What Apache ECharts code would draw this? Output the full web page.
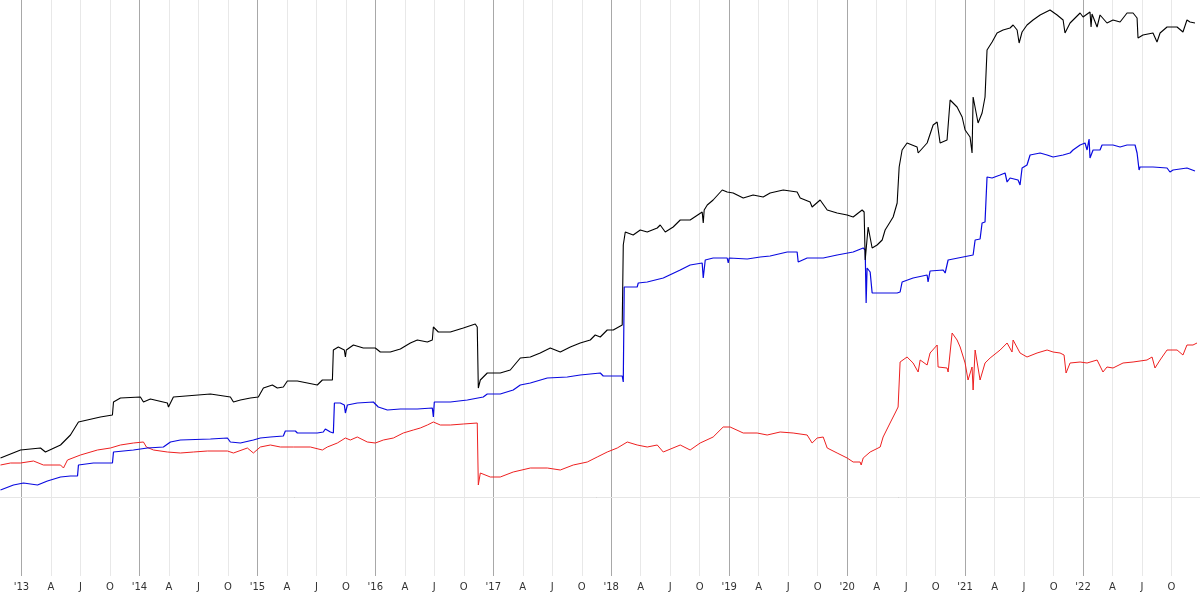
<!DOCTYPE html>
<html>
<head>
<meta charset="utf-8">
<script src="https://cdn.jsdelivr.net/npm/echarts@6/dist/echarts.min.js"></script>
<style>
html,body{margin:0;padding:0;background:#fff;overflow:hidden;width:1200px;height:600px;position:relative;}
#c{position:absolute;left:-8px;top:0;width:1209px;height:600px;}
</style>
</head>
<body>
<div id="c"></div>
<script>
// time in decimal years
const blackDates = [2012.822,2012.992,2013.161,2013.203,2013.331,2013.415,2013.483,2013.669,2013.771,2013.780,2013.839,2014.008,2014.034,2014.093,2014.237,2014.246,2014.288,2014.602,2014.771,2014.797,2014.856,2014.941,2015.008,2015.051,2015.127,2015.169,2015.220,2015.254,2015.339,2015.424,2015.508,2015.551,2015.636,2015.644,2015.686,2015.737,2015.746,2015.754,2015.814,2015.898,2016.000,2016.042,2016.127,2016.212,2016.297,2016.356,2016.441,2016.483,2016.492,2016.534,2016.636,2016.746,2016.847,2016.864,2016.873,2016.890,2016.949,2017.059,2017.144,2017.229,2017.314,2017.398,2017.483,2017.568,2017.653,2017.737,2017.822,2017.864,2017.907,2017.966,2018.017,2018.093,2018.102,2018.119,2018.186,2018.246,2018.305,2018.390,2018.415,2018.458,2018.525,2018.585,2018.669,2018.771,2018.780,2018.788,2018.814,2018.864,2018.941,2018.983,2019.034,2019.119,2019.203,2019.288,2019.347,2019.458,2019.576,2019.602,2019.686,2019.703,2019.771,2019.831,2019.915,2020.000,2020.051,2020.127,2020.144,2020.153,2020.178,2020.212,2020.254,2020.297,2020.322,2020.364,2020.390,2020.424,2020.441,2020.466,2020.508,2020.593,2020.602,2020.678,2020.729,2020.763,2020.788,2020.847,2020.873,2020.932,2020.975,2021.000,2021.042,2021.059,2021.068,2021.110,2021.144,2021.169,2021.186,2021.229,2021.271,2021.322,2021.381,2021.407,2021.441,2021.458,2021.483,2021.525,2021.576,2021.636,2021.720,2021.780,2021.831,2021.847,2021.890,2021.975,2022.000,2022.059,2022.068,2022.076,2022.119,2022.144,2022.203,2022.254,2022.314,2022.373,2022.424,2022.458,2022.466,2022.508,2022.593,2022.627,2022.653,2022.712,2022.797,2022.847,2022.881,2022.907,2022.949];
const blackValues = [39,47,49,45,52,62,75,80,82,95,99,100,95,98,94,90,100,103,100,95,97,99,100,109,112,109,110,116,116,114,112,117,117,147,150,147,140,147,152,149,149,145,145,148,154,157,155,157,170,165,165,169,173,170,109,117,124,124,127,139,140,144,149,145,150,154,157,162,160,167,167,172,252,265,262,267,265,269,272,265,270,277,277,285,274,287,292,297,307,305,304,299,302,300,304,307,305,299,295,290,297,287,284,282,280,287,285,237,270,249,252,257,267,275,280,294,330,347,354,350,344,354,372,375,354,357,397,390,380,367,360,344,400,374,384,400,447,455,464,467,469,472,467,454,465,472,477,482,487,482,477,464,474,484,480,485,470,483,470,482,474,477,475,484,484,479,459,462,464,455,464,470,470,465,477,475,474];

const blueDates = [2012.822,2012.932,2013.017,2013.136,2013.220,2013.331,2013.415,2013.475,2013.483,2013.610,2013.771,2013.780,2013.949,2014.068,2014.203,2014.263,2014.347,2014.602,2014.746,2014.771,2014.856,2014.966,2015.025,2015.110,2015.220,2015.237,2015.322,2015.339,2015.508,2015.559,2015.576,2015.619,2015.644,2015.653,2015.703,2015.737,2015.746,2015.763,2015.847,2015.983,2016.025,2016.102,2016.212,2016.356,2016.483,2016.492,2016.500,2016.636,2016.780,2016.915,2016.949,2017.059,2017.169,2017.229,2017.314,2017.458,2017.627,2017.737,2017.907,2017.932,2018.093,2018.102,2018.110,2018.220,2018.229,2018.305,2018.441,2018.585,2018.669,2018.771,2018.780,2018.797,2018.864,2018.941,2018.949,2018.983,2018.992,2019.000,2019.153,2019.263,2019.347,2019.492,2019.576,2019.585,2019.661,2019.797,2019.915,2020.051,2020.136,2020.153,2020.161,2020.169,2020.195,2020.212,2020.424,2020.449,2020.466,2020.559,2020.678,2020.686,2020.703,2020.814,2020.831,2020.856,2020.983,2021.068,2021.085,2021.127,2021.144,2021.169,2021.186,2021.229,2021.297,2021.339,2021.356,2021.381,2021.449,2021.466,2021.483,2021.525,2021.551,2021.636,2021.695,2021.746,2021.831,2021.890,2021.915,2021.975,2022.017,2022.034,2022.051,2022.059,2022.085,2022.144,2022.161,2022.254,2022.314,2022.373,2022.441,2022.458,2022.475,2022.483,2022.593,2022.712,2022.737,2022.763,2022.881,2022.949];
const blueValues = [7,12,14,12,16,20,21,21,32,34,34,45,47,49,50,55,57,58,59,55,54,57,59,60,61,66,66,64,64,65,68,65,64,94,94,92,84,92,94,95,90,87,88,88,89,80,95,95,97,100,103,103,107,112,114,119,120,122,124,121,121,115,210,210,214,215,219,227,232,234,219,237,239,239,241,239,234,239,238,240,241,245,245,235,239,239,242,245,249,247,194,229,225,204,204,205,215,219,222,215,226,227,224,237,240,242,257,258,274,275,320,319,322,324,315,319,317,312,329,332,342,344,342,340,342,344,347,352,354,347,358,339,347,347,352,352,350,352,352,344,327,330,330,329,325,327,329,326];

const redDates = [2012.822,2012.907,2012.992,2013.102,2013.186,2013.331,2013.356,2013.390,2013.500,2013.644,2013.754,2013.839,2013.949,2014.034,2014.059,2014.119,2014.237,2014.347,2014.458,2014.576,2014.746,2014.797,2014.915,2014.966,2015.025,2015.110,2015.195,2015.305,2015.449,2015.551,2015.593,2015.678,2015.746,2015.788,2015.847,2015.932,2016.000,2016.068,2016.153,2016.237,2016.322,2016.381,2016.441,2016.492,2016.551,2016.636,2016.746,2016.864,2016.873,2016.890,2016.975,2017.059,2017.169,2017.314,2017.458,2017.568,2017.678,2017.797,2017.881,2017.966,2018.051,2018.136,2018.220,2018.305,2018.390,2018.441,2018.585,2018.669,2018.754,2018.864,2018.949,2019.008,2019.119,2019.237,2019.322,2019.432,2019.542,2019.661,2019.703,2019.746,2019.797,2019.831,2019.915,2020.000,2020.051,2020.110,2020.119,2020.136,2020.195,2020.280,2020.305,2020.364,2020.407,2020.432,2020.449,2020.508,2020.559,2020.602,2020.619,2020.678,2020.703,2020.763,2020.771,2020.847,2020.856,2020.890,2020.932,2020.958,2021.000,2021.025,2021.059,2021.068,2021.085,2021.127,2021.169,2021.212,2021.297,2021.356,2021.398,2021.407,2021.466,2021.525,2021.610,2021.695,2021.746,2021.805,2021.839,2021.856,2021.890,2021.975,2022.034,2022.119,2022.169,2022.203,2022.254,2022.339,2022.424,2022.542,2022.585,2022.610,2022.653,2022.712,2022.797,2022.847,2022.881,2022.932,2022.966];
const redValues = [32,34,34,36,32,32,29,37,42,47,49,52,54,55,50,47,45,44,45,46,46,44,49,44,50,52,50,50,50,47,50,54,59,57,60,55,54,57,59,64,67,69,72,75,72,72,73,74,12,24,20,20,25,29,29,27,32,35,40,45,49,55,52,50,52,45,52,47,54,60,70,70,64,64,62,65,64,62,54,59,60,49,44,39,35,35,32,39,45,50,60,74,84,90,135,140,134,125,137,132,144,152,130,129,125,164,157,150,134,117,130,107,147,117,134,139,147,154,145,157,144,140,144,147,145,144,142,124,134,135,134,137,125,130,129,134,135,137,140,129,137,147,147,142,152,152,154];

const quarterLabels = ['A', 'J', 'O'];
const yearPrefix = "'";

function pairs(d, v) { return d.map((x, i) => [x, v[i]]); }

const chart = echarts.init(document.getElementById('c'), null, {renderer: 'canvas'});
chart.setOption({
  animation: false,
  backgroundColor: '#ffffff',
  grid: { left: 0, right: 0, top: 0, bottom: 24, containLabel: false },
  xAxis: {
    type: 'value', min: 2012.75, max: 2023, interval: 0.25,
    axisLine: { show: true, lineStyle: { color: '#8a8a8a', width: 1 } },
    axisTick: { show: false },
    axisLabel: {
      showMinLabel: false, showMaxLabel: false,
      margin: 6, color: '#333', fontSize: 10, fontFamily: 'DejaVu Sans',
      formatter: function (v) {
        const y = Math.round(v);
        if (Math.abs(v - y) < 1e-6) return yearPrefix + String(y).slice(2);
        const q = Math.round((v - Math.floor(v)) * 4);
        return quarterLabels[q - 1];
      }
    },
    splitLine: { show: true, lineStyle: { color: ['#e8e8e8', '#a8a8a8', '#e8e8e8', '#e8e8e8'], width: 1 } }
  },
  yAxis: {
    type: 'value', min: -79, max: 497, show: false, splitLine: { show: false }
  },
  series: [
    { type: 'line', name: 'red', data: pairs(redDates, redValues), showSymbol: false, symbol: 'none',
      lineStyle: { color: '#ee2020', width: 1 }, itemStyle: { color: '#ee2020' },
      markLine: { silent: true, symbol: 'none', label: { show: false },
        lineStyle: { color: '#e6e6e6', type: 'solid', width: 1 }, data: [{ yAxis: 0 }] } },
    { type: 'line', name: 'blue', data: pairs(blueDates, blueValues), showSymbol: false, symbol: 'none',
      lineStyle: { color: '#0a0ae0', width: 1.2 }, itemStyle: { color: '#0a0ae0' } },
    { type: 'line', name: 'black', data: pairs(blackDates, blackValues), showSymbol: false, symbol: 'none',
      lineStyle: { color: '#000000', width: 1.1 }, itemStyle: { color: '#000' } }
  ]
});
</script>
</body>
</html>
